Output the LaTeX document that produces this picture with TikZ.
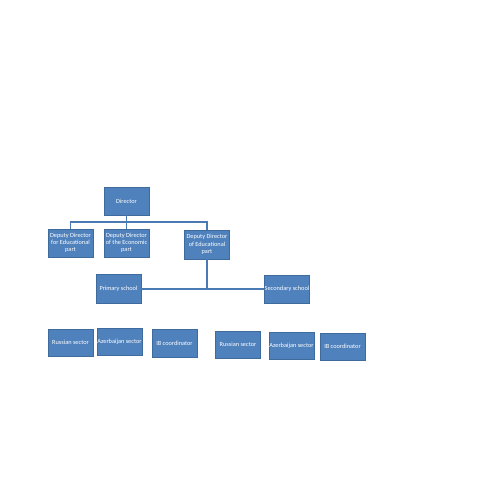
\documentclass[tikz,border=0pt]{standalone}
\usepackage{fontspec}
\setmainfont{Carlito}
\definecolor{boxfill}{HTML}{4F81BD}
\definecolor{boxline}{HTML}{3F6A9C}
\definecolor{linkcol}{HTML}{4A7AB5}
\begin{document}
\begin{tikzpicture}[x=1pt,y=-1pt,
  orgbox/.style={draw=boxline,line width=0.6pt,fill=boxfill,text=white,inner sep=0pt,
    minimum width=45pt,minimum height=28pt,align=center,
    font=\fontsize{6.3}{7.2}\selectfont},
  link/.style={draw=linkcol,line width=1.4pt}]
\useasboundingbox (0,0) rectangle (495,495);
\fill[white] (0,0) rectangle (495,495);
\node[orgbox] (dir) at (126.5,201) {Director};
\node[orgbox] (d1) at (70.5,243) {Deputy Director\\for Educational\\part};
\node[orgbox] (d2) at (126.5,243) {Deputy Director\\of the Economic\\part};
\node[orgbox,minimum height=29pt] (d3) at (207,244.5) {Deputy Director\\of Educational\\part};
\node[orgbox,minimum height=29pt] (prim) at (118.5,289) {Primary school};
\node[orgbox] (sec) at (287,289) {Secondary school};
\node[orgbox,minimum height=27pt] (r1) at (70.5,342.5) {Russian sector};
\node[orgbox,minimum height=27pt] (a1) at (119.5,341.5) {Azerbaijan sector};
\node[orgbox] (ib1) at (174.5,343) {IB coordinator};
\node[orgbox,minimum height=27pt] (r2) at (238,344.5) {Russian sector};
\node[orgbox,minimum height=27pt] (a2) at (291.5,345.5) {Azerbaijan sector};
\node[orgbox,minimum height=27pt] (ib2) at (342.5,346.5) {IB coordinator};
\coordinate (barl) at (70.5,222);
\coordinate (barr) at (207,222);
\coordinate (jn) at (207,289);
\draw[link] (dir.south) -- (d2.north);
\draw[link] (d1.north) -- (barl) -- (barr) -- (d3.north);
\draw[link] (d3.south) -- (jn);
\draw[link] (prim.east) -- (sec.west);
\end{tikzpicture}
\end{document}
